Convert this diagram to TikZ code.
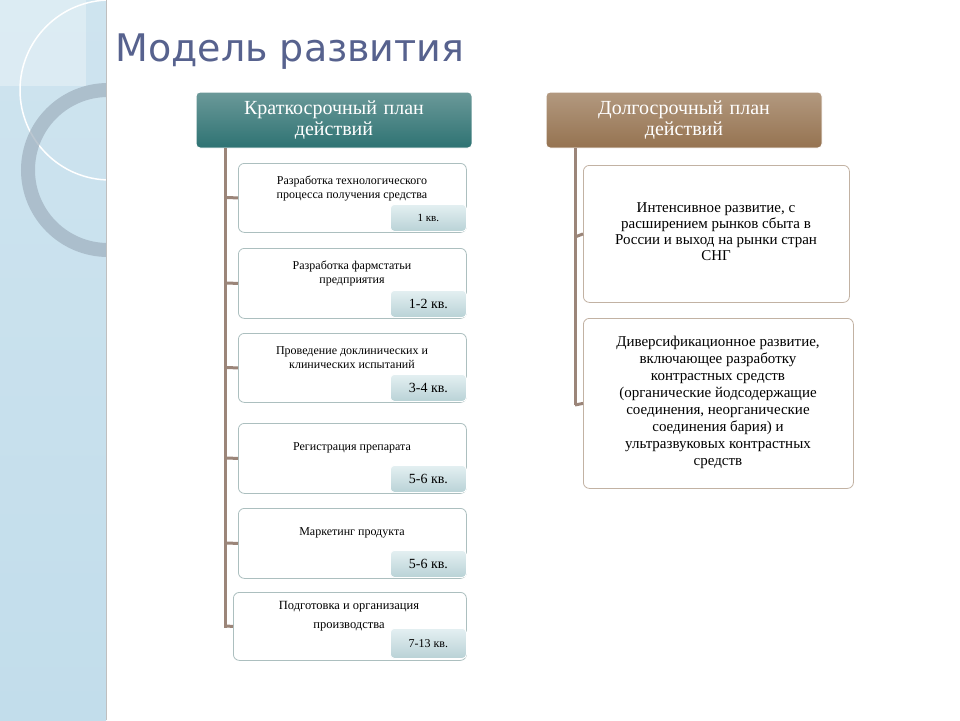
\documentclass[tikz,border=0pt]{standalone}
\usepackage{fontspec}
\setmainfont{Liberation Serif}
\newfontfamily\titlefont{DejaVu Sans}
\definecolor{strip}{HTML}{C2DDEB}
\definecolor{ringc}{HTML}{9FB0BE}
\definecolor{titlec}{HTML}{57628E}
\definecolor{lc}{HTML}{9B8579}
\definecolor{badgetop}{HTML}{E4F0F2}
\definecolor{badgebot}{HTML}{B9D2D6}
\begin{document}
\begin{tikzpicture}[x=1pt,y=-1pt,
  hdr/.style={rounded corners=4pt,draw=white,line width=1pt,minimum width=276pt,minimum height=56pt,text=white,font=\fontsize{20}{21}\selectfont,align=center,text width=250pt},
  item/.style={rounded corners=6pt,draw=#1,line width=0.8pt,fill=white,anchor=north west,inner sep=0pt},
  badge/.style={rounded corners=4pt,draw=white,line width=0.8pt,top color=badgetop,bottom color=badgebot,anchor=north west,minimum width=76pt,minimum height=27pt,inner sep=0pt,font=\fontsize{13}{13}\selectfont},
  txt/.style={align=center,font=\fontsize{12}{14}\selectfont},
  lnk/.style={draw=#1,line width=3pt}]
\useasboundingbox (0,0) rectangle (960,720);
\fill[white] (0,0) rectangle (960,720);
% left strip
\fill[top color=strip!80!white,bottom color=strip] (0,0) rectangle (106,720);
\begin{scope}
\clip (0,0) rectangle (106,720);
\fill[white,opacity=0.3] (0,0) rectangle (86,86);
\draw[white,line width=1.5pt] (110,90) circle (90);
\draw[ringc,line width=14pt,opacity=0.7] (108,170) circle (80);
\end{scope}
\draw[gray!50,line width=1pt] (106,0) -- (106,720);
% title
\node[anchor=west,font=\titlefont\fontsize{38}{38}\selectfont,text=titlec] (title) at (112,52) {Модель развития};
% headers
\node[hdr,top color=teal!45!gray!80!white,bottom color=teal!60!gray!90!black] (L) at (334,120) {Краткосрочный план\\действий};
\node[hdr,top color=brown!50!gray!80!white,bottom color=brown!60!gray!90!black] (R) at (684,120) {Долгосрочный план\\действий};
\coordinate (Lb) at (225,628);
\draw[lnk=lc] (225,148) -- (Lb);
\coordinate (Rb) at (575,405);
\draw[lnk=lc] (575,148) -- (Rb);
% left items
\foreach \i/\y/\h/\t/\b/\bs in {1/163/69/{Разработка технологического\\процесса получения средства}/1 кв./11,
  2/248/70/{Разработка фармстатьи\\предприятия}/1-2 кв./14,
  3/333/69/{Проведение доклинических и\\клинических испытаний}/3-4 кв./14,
  4/423/70/{Регистрация препарата}/5-6 кв./14,
  5/508/70/{Маркетинг продукта}/5-6 кв./14}{
  \node[item=teal!30!gray!50,minimum width=228pt,minimum height=\h pt] (b\i) at (238,\y) {};
  \draw[lnk=lc] (225,\y+\h/2) -- (b\i.west);
  \node[txt] (t\i) at (352,\y+25) {\t};
  \node[badge,font=\fontsize{\bs}{\bs}\selectfont] (k\i) at (390,\y+\h-28) {\b};
}
\node[item=teal!30!gray!50,minimum width=233pt,minimum height=68pt] (b6) at (233,592) {};
\draw[lnk=lc] (225,626) -- (b6.west);
\node[txt,font=\fontsize{12.5}{19}\selectfont] (t6) at (349,616) {Подготовка и организация\\производства};
\node[badge,font=\fontsize{12}{12}\selectfont,minimum height=30pt] (k6) at (390,628) {7-13 кв.};
% right items
\node[item=brown!40!gray!60,minimum width=266pt,minimum height=137pt] (rA) at (583,165) {};
\draw[lnk=lc] (575,237) -- (rA.west);
\node[txt,font=\fontsize{15}{16}\selectfont] (tA) at (716,232) {Интенсивное развитие, с\\расширением рынков сбыта в\\России и выход на рынки стран\\СНГ};
\node[item=brown!40!gray!60,minimum width=270pt,minimum height=170pt] (rB) at (583,318) {};
\draw[lnk=lc] (575,405) -- (rB.west);
\node[txt,font=\fontsize{15}{17}\selectfont] (tB) at (718,402) {Диверсификационное развитие,\\включающее разработку\\контрастных средств\\(органические йодсодержащие\\соединения, неорганические\\соединения бария) и\\ультразвуковых контрастных\\средств};
\end{tikzpicture}
\end{document}
